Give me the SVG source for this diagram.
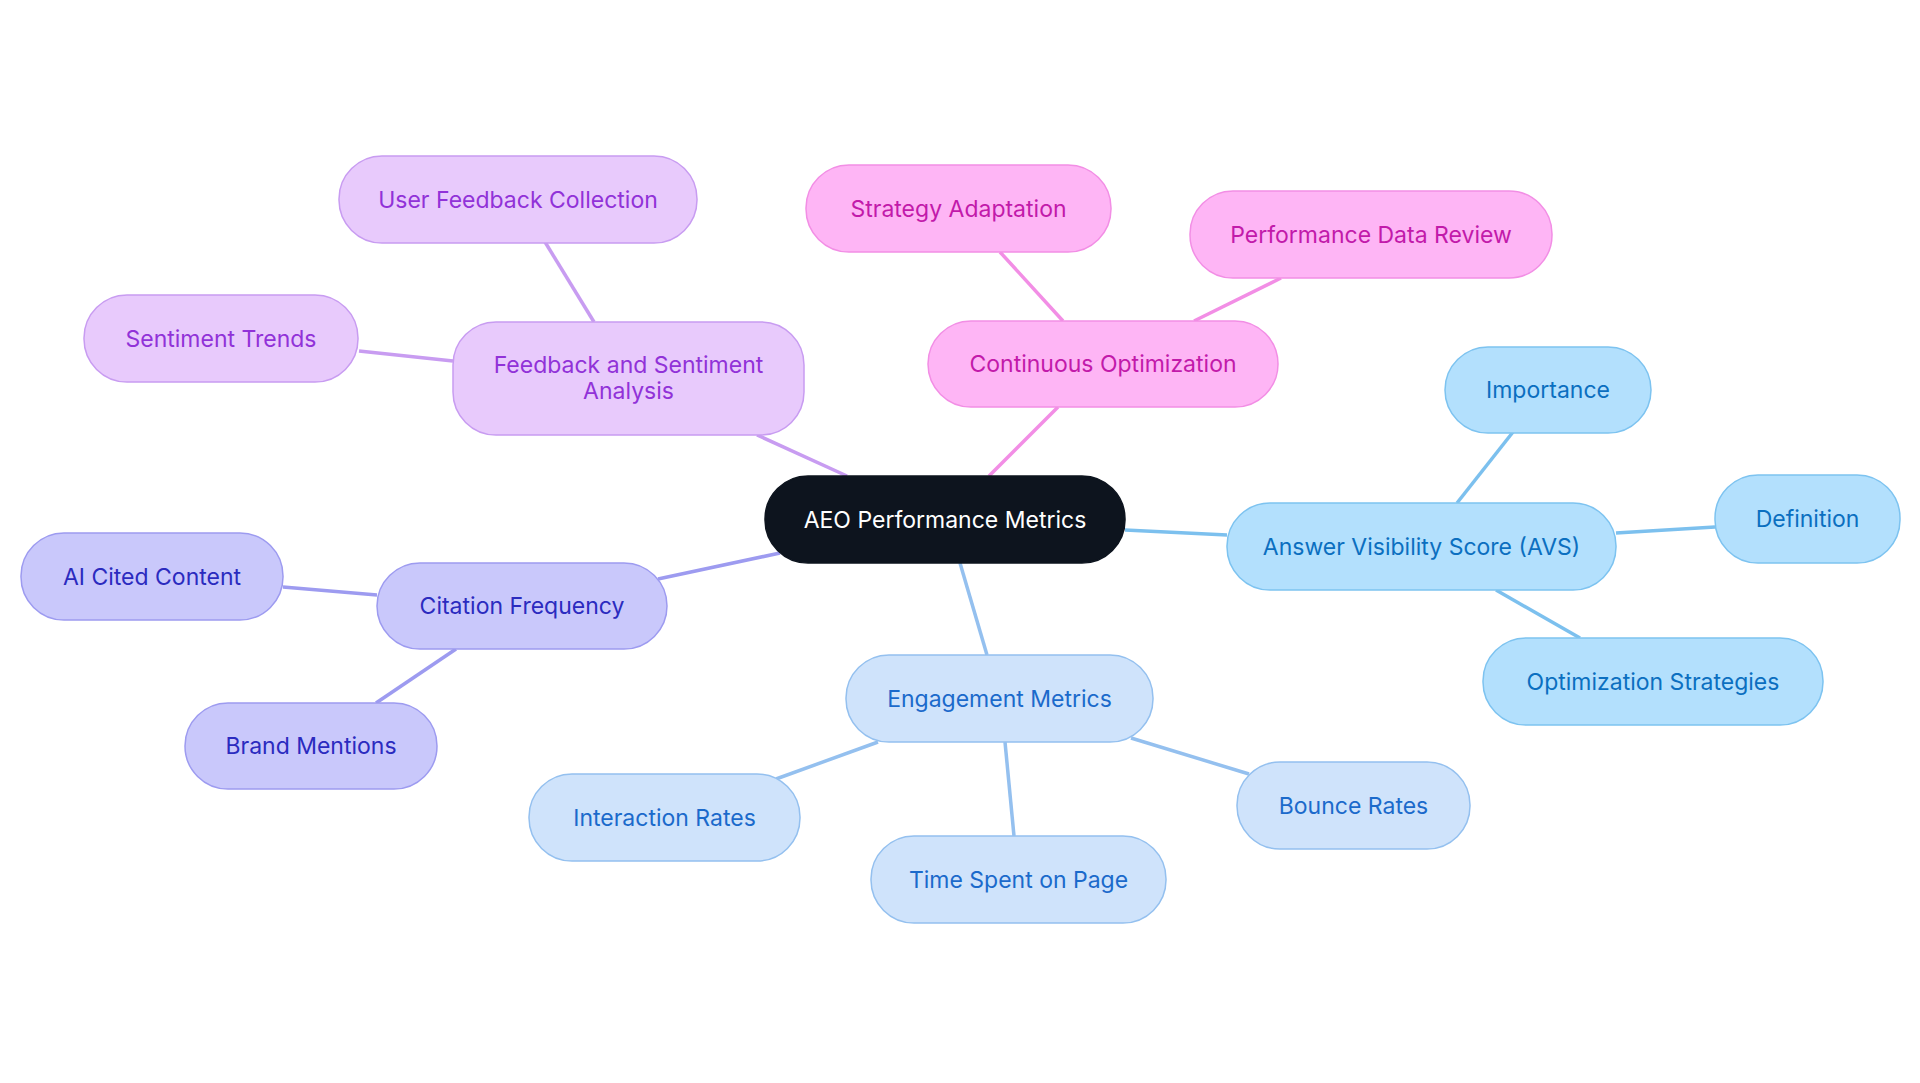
<svg xmlns="http://www.w3.org/2000/svg" width="1920" height="1083" viewBox="0 0 1920 1083">
<style>
text{font-family:Inter,"Noto Sans",sans-serif;font-size:23px;text-anchor:middle;dominant-baseline:central}
rect{stroke-width:1.5}
.c line{stroke-width:3.5}
.b rect{fill:#b3e0fd;stroke:#7dc3f0}.b text{fill:#0b6fc0}
.e rect{fill:#cfe3fb;stroke:#94c0ef}.e text{fill:#1b6acb}
.q rect{fill:#c9c8fb;stroke:#9d9bf0}.q text{fill:#2b2bbf}
.f rect{fill:#e8cafc;stroke:#c89cf1}.f text{fill:#9132d8}
.p rect{fill:#feb5f5;stroke:#f28ee5}.p text{fill:#c21aaa}
</style>
<rect width="1920" height="1083" fill="#fff" style="stroke:none"/>
<g class="c">
<line x1="847" y1="476" x2="757" y2="435" stroke="#c89cf1"/>
<line x1="594" y1="322" x2="545" y2="242" stroke="#c89cf1"/>
<line x1="453" y1="361" x2="359" y2="351" stroke="#c89cf1"/>
<line x1="989" y1="476" x2="1058" y2="407" stroke="#f28ee5"/>
<line x1="1063" y1="321" x2="1000" y2="252" stroke="#f28ee5"/>
<line x1="1194" y1="321" x2="1281" y2="278" stroke="#f28ee5"/>
<line x1="1125" y1="530" x2="1227" y2="535" stroke="#7cc0ee"/>
<line x1="1457" y1="503" x2="1513" y2="432" stroke="#7cc0ee"/>
<line x1="1616" y1="533" x2="1715" y2="527" stroke="#7cc0ee"/>
<line x1="1496" y1="590" x2="1580" y2="638" stroke="#7cc0ee"/>
<line x1="780" y1="553" x2="658" y2="579" stroke="#9d9bf0"/>
<line x1="377" y1="595" x2="283" y2="587" stroke="#9d9bf0"/>
<line x1="456" y1="649" x2="376" y2="703" stroke="#9d9bf0"/>
<line x1="960" y1="563" x2="987" y2="655" stroke="#94c0ef"/>
<line x1="878" y1="742" x2="776" y2="779" stroke="#94c0ef"/>
<line x1="1005" y1="742" x2="1014" y2="836" stroke="#94c0ef"/>
<line x1="1131" y1="738" x2="1249" y2="774" stroke="#94c0ef"/>
</g>
<g id="center"><rect x="765" y="476" width="360" height="87" rx="43" fill="#0d141e" stroke="#0d141e"/><text x="945" y="519.5" fill="#fff">AEO Performance Metrics</text></g>
<g id="feedback" class="f"><rect x="453" y="322" width="351" height="113" rx="43"/><text x="628.5" y="365">Feedback and Sentiment</text><text x="628.5" y="391">Analysis</text></g>
<g id="userfb" class="f"><rect x="339" y="156" width="358" height="87" rx="43"/><text x="518" y="199.5">User Feedback Collection</text></g>
<g id="senti" class="f"><rect x="84" y="295" width="274" height="87" rx="43"/><text x="221" y="338.5">Sentiment Trends</text></g>
<g id="cont" class="p"><rect x="928" y="321" width="350" height="86" rx="43"/><text x="1103" y="364">Continuous Optimization</text></g>
<g id="strat" class="p"><rect x="806" y="165" width="305" height="87" rx="43"/><text x="958.5" y="208.5">Strategy Adaptation</text></g>
<g id="perf" class="p"><rect x="1190" y="191" width="362" height="87" rx="43"/><text x="1371" y="234.5">Performance Data Review</text></g>
<g id="avs" class="b"><rect x="1227" y="503" width="389" height="87" rx="43"/><text x="1421.5" y="546.5">Answer Visibility Score (AVS)</text></g>
<g id="imp" class="b"><rect x="1445" y="347" width="206" height="86" rx="43"/><text x="1548" y="390">Importance</text></g>
<g id="def" class="b"><rect x="1715" y="475" width="185" height="88" rx="43"/><text x="1807.5" y="519">Definition</text></g>
<g id="optst" class="b"><rect x="1483" y="638" width="340" height="87" rx="43"/><text x="1653" y="681.5">Optimization Strategies</text></g>
<g id="cit" class="q"><rect x="377" y="563" width="290" height="86" rx="43"/><text x="522" y="606">Citation Frequency</text></g>
<g id="ai" class="q"><rect x="21" y="533" width="262" height="87" rx="43"/><text x="152" y="576.5">AI Cited Content</text></g>
<g id="brand" class="q"><rect x="185" y="703" width="252" height="86" rx="43"/><text x="311" y="746">Brand Mentions</text></g>
<g id="eng" class="e"><rect x="846" y="655" width="307" height="87" rx="43"/><text x="999.5" y="698.5">Engagement Metrics</text></g>
<g id="inter" class="e"><rect x="529" y="774" width="271" height="87" rx="43"/><text x="664.5" y="817.5">Interaction Rates</text></g>
<g id="time" class="e"><rect x="871" y="836" width="295" height="87" rx="43"/><text x="1018.5" y="879.5">Time Spent on Page</text></g>
<g id="bounce" class="e"><rect x="1237" y="762" width="233" height="87" rx="43"/><text x="1353.5" y="805.5">Bounce Rates</text></g>
</svg>
